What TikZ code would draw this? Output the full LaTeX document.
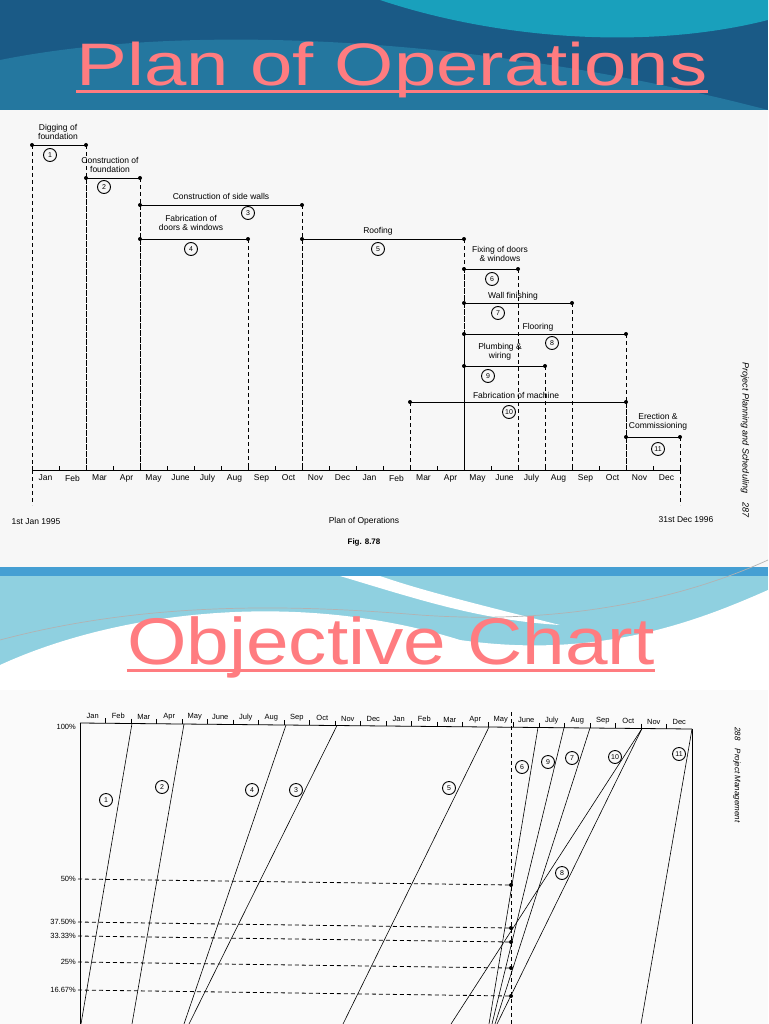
\documentclass[tikz,border=0pt]{standalone}
\usepackage{fontspec}
\setmainfont{Liberation Sans}
\begin{document}
\begin{tikzpicture}[x=1pt,y=-1pt,
  lbl/.style={font=\fontsize{8.5}{9.5}\selectfont,align=center,inner sep=0pt},
  num/.style={circle,draw,line width=0.9pt,minimum size=13pt,inner sep=0pt,font=\fontsize{7}{7}\selectfont},
  bar/.style={line width=0.9pt},
  dsh/.style={line width=0.5pt,dash pattern=on 4pt off 3pt},
  ttl/.style={text=pink1,inner sep=0pt,font=\fontsize{60}{60}\selectfont},
  uline/.style={pink1,line width=3pt}]
\definecolor{pink1}{HTML}{FF7C80}
\definecolor{dblue}{HTML}{1A5A86}
\definecolor{mblue}{HTML}{24779F}
\definecolor{lblue}{HTML}{8FD0E0}
\definecolor{strip}{HTML}{459FD3}
\useasboundingbox (0,0) rectangle (768,1024);
% backgrounds
\fill[dblue] (0,0) rectangle (768,110);
\fill[mblue] (0,110) -- (0,60) .. controls (200,20) and (500,40) .. (768,110) -- cycle;
\fill[mblue!70!cyan] (380,0) .. controls (500,40) and (650,50) .. (768,20) -- (768,0) -- cycle;
\fill[gray!6] (0,110) rectangle (768,567);
\fill[strip] (0,567) rectangle (768,576);
\draw[dblue,line width=0.8pt] (0,576) -- (768,576);
\fill[lblue] (0,576) rectangle (768,690);
\fill[white] (0,690) -- (0,665) .. controls (120,610) and (300,590) .. (460,640) .. controls (600,660) and (700,620) .. (768,590) -- (768,690) -- cycle;
\fill[white] (340,576) .. controls (420,600) and (480,620) .. (560,625) .. controls (480,605) and (420,590) .. (380,576) -- cycle;
\fill[gray!4] (0,690) rectangle (768,1024);
\draw[gray!60,line width=0.7pt] (0,640) .. controls (150,600) and (300,605) .. (420,615) .. controls (560,625) and (680,600) .. (768,560);
\node[ttl,anchor=base,xscale=1.27] (t1) at (392,86) {Plan of Operations};
\draw[uline] ([yshift=-6pt]t1.base west) -- ([yshift=-6pt]t1.base east);
\node[ttl,anchor=base,xscale=1.16,font=\fontsize{66}{66}\selectfont] (t2) at (391,664) {Objective Chart};
\draw[uline] ([yshift=-6pt]t2.base west) -- ([yshift=-6pt]t2.base east);
% ---------- Plan of Operations chart ----------
\draw[line width=0.7pt] (32,470) -- (680,470);
\foreach \i in {0,...,24} \draw (32+27*\i,466) -- (32+27*\i,470);
\foreach \m [count=\i from 0] in {Jan,Feb,Mar,Apr,May,June,July,Aug,Sep,Oct,Nov,Dec,Jan,Feb,Mar,Apr,May,June,July,Aug,Sep,Oct,Nov,Dec}
  \node[lbl] at (45.5+27*\i,478) {\m};
\foreach \a/\b/\y in {32/86/145,86/140/178,140/302/205,140/248/239,302/464/239,464/518/269,464/572/303,464/626/334,464/545/366,410/626/402,626/680/437}{
  \draw[bar] (\a,\y) -- (\b,\y);
  \fill (\a,\y) circle (2pt) (\b,\y) circle (2pt);
  \draw[dsh] (\a,\y) -- (\a,470);
  \draw[dsh] (\b,\y) -- (\b,470);
}
\draw[dsh] (32,470) -- (32,505);
\draw[dsh] (680,470) -- (680,505);
\node[lbl] (l1) at (58,132) {Digging of\\foundation};
\node[num] (c1) at (50,155) {1};
\node[lbl] (l2) at (110,165) {Construction of\\foundation};
\node[num] (c2) at (104,187) {2};
\node[lbl] (l3) at (221,196) {Construction of side walls};
\node[num] (c3) at (248,213) {3};
\node[lbl] (l4) at (191,223) {Fabrication of\\doors \& windows};
\node[num] (c4) at (191,249) {4};
\node[lbl] (l5) at (378,231) {Roofing};
\node[num] (c5) at (378,249) {5};
\node[lbl] (l6) at (500,254) {Fixing of doors\\\& windows};
\node[num] (c6) at (492,279) {6};
\node[lbl] (l7) at (513,296) {Wall finishing};
\node[num] (c7) at (498,313) {7};
\node[lbl] (l8) at (538,327) {Flooring};
\node[num] (c8) at (552,343) {8};
\node[lbl] (l9) at (500,352) {Plumbing \&\\wiring};
\node[num] (c9) at (488,376) {9};
\node[lbl] (l10) at (516,395) {Fabrication of machine};
\node[num] (c10) at (509,412) {10};
\node[lbl] (l11) at (658,422) {Erection \&\\Commissioning};
\node[num] (c11) at (658,449) {11};
\node[lbl] (d1) at (36,522) {1st Jan 1995};
\node[lbl] (d2) at (364,521) {Plan of Operations};
\node[lbl,font=\bfseries\fontsize{8}{9}\selectfont] (d3) at (364,542) {Fig. 8.78};
\node[lbl] (d4) at (686,520) {31st Dec 1996};
\node[lbl,rotate=-90,font=\itshape\fontsize{9}{10}\selectfont] (side1) at (745,440) {Project Planning and Scheduling\quad 287};
% ---------- Objective chart ----------
\draw[line width=0.8pt] (80,723) -- (692,729);
\draw[line width=0.8pt] (80,723) -- (80,1024);
\draw[line width=0.8pt] (692,729) -- (692,1024);
\foreach \i in {1,...,23} \draw (80+25.5*\i,{723+0.25*\i-5}) -- (80+25.5*\i,{723+0.25*\i});
\foreach \m [count=\i from 0] in {Jan,Feb,Mar,Apr,May,June,July,Aug,Sep,Oct,Nov,Dec,Jan,Feb,Mar,Apr,May,June,July,Aug,Sep,Oct,Nov,Dec}
  \node[lbl,font=\fontsize{7.5}{8}\selectfont] at (92.75+25.5*\i,{716+0.25*\i}) {\m};
\node[lbl,font=\fontsize{7.5}{8}\selectfont,anchor=east] (p100) at (76,727) {100\%};
\draw[dsh] (511,712) -- (511,1024);
\foreach \t/\yl/\yr in {50\%/879/885,37.50\%/922/928,33.33\%/936/942,25\%/962/968,16.67\%/990/996}{
  \node[lbl,font=\fontsize{7.5}{8}\selectfont,anchor=east] at (76,\yl) {\t};
  \draw[dsh,line width=0.8pt] (78,\yl) -- (511,\yr);
  \fill (511,\yr) circle (2pt);
}
\foreach \b/\t in {81/132,132/184,184/286,189/337,343/489,489/538,492/564,495/590,451/642,497/642,641/692}{
  \draw[line width=0.6pt] (\b,1024) -- (\t,{723+(\t-80)*6/612});
}
\foreach \n/\x/\y in {1/106/800,2/162/787,4/252/790,3/296/790,5/449/788,6/522/767,9/548/762,7/572/758,10/615/757,11/679/754,8/562/873}
  \node[num,fill=gray!4] (o\n) at (\x,\y) {\n};
\node[lbl,rotate=-90,font=\itshape\fontsize{8}{9}\selectfont] (side2) at (737,775) {288\quad Project Management};
\end{tikzpicture}
\end{document}
